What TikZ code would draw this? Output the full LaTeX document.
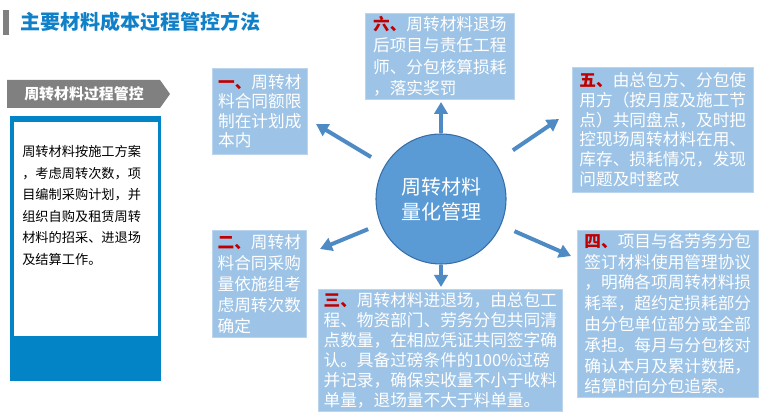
\documentclass[tikz,border=0pt]{standalone}
\usepackage{fontspec}
\setmainfont{Noto Sans CJK SC}
\usetikzlibrary{arrows.meta}

\newcommand\hd[1]{\textcolor{numred}{\bfseries #1}}

\begin{document}
\begin{tikzpicture}[
  x=0.75pt, y=-0.75pt,
  card/.style={fill=cardblue, draw=cardblue!70!white, anchor=north west, align=left, inner xsep=3pt, inner ysep=0pt, text=white, font=\fontsize{12.5}{#1}\selectfont},
  spoke/.style={-{Triangle[length=9pt,width=10pt]}, line width=3pt, draw=spokeblue}
]

\definecolor{cardblue}{RGB}{157,195,230}
\definecolor{numred}{RGB}{192,0,0}
\definecolor{hubblue}{RGB}{91,155,213}
\definecolor{hubedge}{RGB}{55,110,170}
\definecolor{spokeblue}{RGB}{78,138,196}
\definecolor{panelblue}{RGB}{2,132,199}
\definecolor{titleblue}{RGB}{16,128,200}
\definecolor{headgray}{RGB}{128,128,128}

\useasboundingbox (0,0) rectangle (760,413);

\fill[headgray] (3,10) rectangle (9,35);
\node[anchor=west, text=titleblue, font=\fontsize{15}{18}\selectfont\bfseries] (title) at (16,22) {主要材料成本过程管控方法};

\fill[headgray] (7,80) -- (160,80) -- (170,94) -- (160,108) -- (7,108) -- cycle;
\node[text=white, font=\fontsize{11.2}{13}\selectfont\bfseries] (head) at (84,94) {周转材料过程管控};

\fill[panelblue] (10,116) rectangle (161,381);
\fill[white] (14,122) rectangle (158,336);
\node[anchor=west, align=left, inner sep=0pt, font=\fontsize{9.9}{16.1}\selectfont] (desc) at (22,205.5) {周转材料按施工方案\\，考虑周转次数，项\\目编制采购计划，并\\组织自购及租赁周转\\材料的招采、进退场\\及结算工作。};

\node[circle, minimum size=97.5pt, fill=hubblue, draw=hubedge, line width=0.8pt, text=white, align=center, font=\fontsize{15}{18.75}\selectfont] (hub) at (441,199) {周转材料\\量化管理};

\node[card=14.4, minimum width=71.25pt, minimum height=64.5pt] (b1) at (212,68) {\hd{一、}周转材\\料合同额限\\制在计划成\\本内};
\node[card=15.75, minimum width=70.5pt, minimum height=80.25pt] (b2) at (212,230) {\hd{二、}周转材\\料合同采购\\量依施组考\\虑周转次数\\确定};
\node[card=15, minimum width=183pt, minimum height=91.5pt] (b3) at (318,289) {\hd{三、}周转材料进退场，由总包工\\程、物资部门、劳务分包共同清\\点数量，在相应凭证共同签字确\\认。具备过磅条件的100\%过磅\\并记录，确保实收量不小于收料\\单量，退场量不大于料单量。};
\node[card=15.6, minimum width=135.75pt, minimum height=125.25pt] (b4) at (577,230) {\hd{四、}项目与各劳务分包\\签订材料使用管理协议\\，明确各项周转材料损\\耗率，超约定损耗部分\\由分包单位部分或全部\\承担。每月与分包核对\\确认本月及累计数据，\\结算时向分包追索。};
\node[card=14.8, minimum width=135.75pt, minimum height=93.75pt] (b5) at (572,67) {\hd{五、}由总包方、分包使\\用方（按月度及施工节\\点）共同盘点，及时把\\控现场周转材料在用、\\库存、损耗情况，发现\\问题及时整改};
\node[card=16.1, minimum width=111.75pt, minimum height=64.5pt] (b6) at (365,13) {\hd{六、}周转材料退场\\后项目与责任工程\\师、分包核算损耗\\，落实奖罚};

\coordinate (t1) at (316,124);
\coordinate (t2) at (320,249);
\coordinate (t3) at (441,287);
\coordinate (t4) at (571,256);
\coordinate (t5) at (559,119);
\coordinate (t6) at (441,102);

\draw[spoke, shorten <=12pt] (hub) -- (t1);
\draw[spoke, shorten <=10pt] (hub) -- (t2);
\draw[spoke] (hub) -- (t3);
\draw[spoke, shorten <=11pt] (hub) -- (t4);
\draw[spoke, shorten <=16pt] (hub) -- (t5);
\draw[spoke] (hub) -- (t6);

\end{tikzpicture}
\end{document}
